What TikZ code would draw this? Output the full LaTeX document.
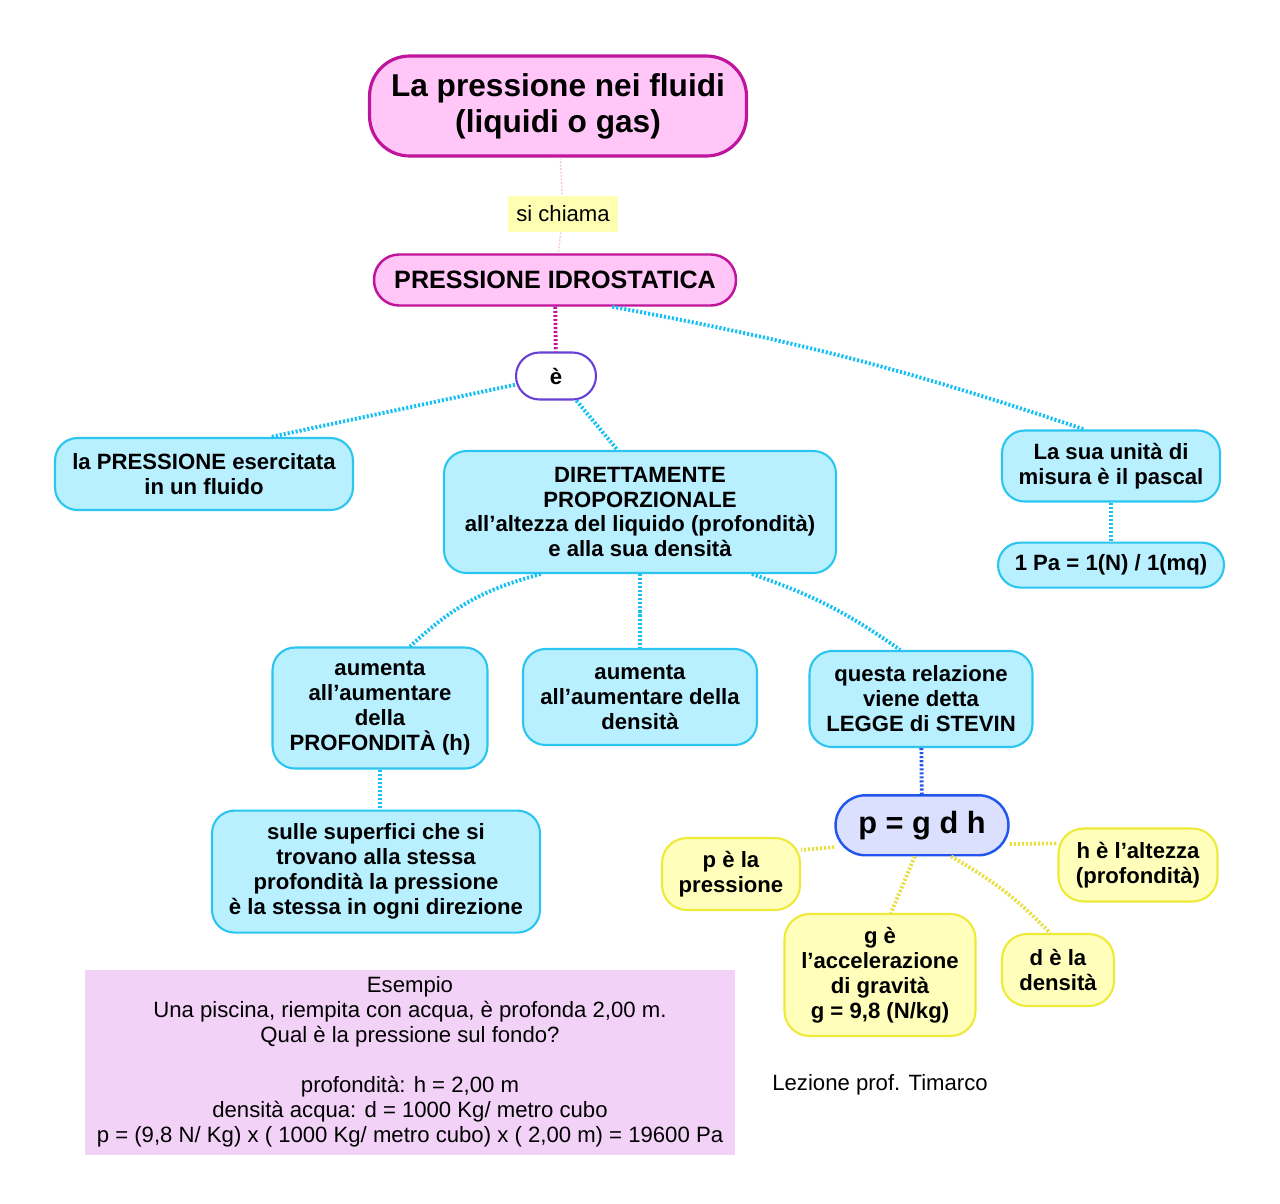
\documentclass[tikz,border=0pt]{standalone}
\usepackage{fontspec}
\setmainfont{Liberation Sans}
\usetikzlibrary{positioning}
\definecolor{colPinkFill}{HTML}{FFC6F7}
\definecolor{colPinkDraw}{HTML}{C0149C}
\definecolor{colPinkLine}{HTML}{F2C4EA}
\definecolor{colCyanFill}{HTML}{B9F0FF}
\definecolor{colCyanDraw}{HTML}{2BC5F0}
\definecolor{colCyanLine}{HTML}{14C0F5}
\definecolor{colYelFill}{HTML}{FFFFBB}
\definecolor{colYelDraw}{HTML}{EEEA3A}
\definecolor{colYelLine}{HTML}{E8E040}
\definecolor{colNote}{HTML}{FFFFB3}
\definecolor{colEh}{HTML}{6A3FD6}
\definecolor{colFormFill}{HTML}{DCE0FF}
\definecolor{colFormDraw}{HTML}{2255EE}
\definecolor{colExample}{HTML}{F3D2F8}

\begin{document}
\begin{tikzpicture}[
  x=0.02cm, y=0.02cm,
  font=\bfseries\fontsize{12.6}{14.2}\selectfont,
  every node/.style={align=center},
  pinkbox/.style={
    rounded corners=0.5cm, draw=colPinkDraw, fill=colPinkFill,
    line width=1.4pt, inner sep=0pt
  },
  cyanbox/.style={
    rounded corners=0.45cm, draw=colCyanDraw, fill=colCyanFill,
    line width=1.2pt, inner sep=0pt
  },
  yelbox/.style={
    rounded corners=0.5cm, draw=colYelDraw, fill=colYelFill,
    line width=1.2pt, inner sep=0pt
  },
  plain/.style={font=\mdseries\fontsize{12.6}{14.2}\selectfont},
  dotlink/.style={line width=2.2pt, dash pattern=on 1.2pt off 1.1pt, draw=#1},
  dotlink/.default=colCyanLine,
]

\useasboundingbox[fill=white] (0,0) rectangle (1280,-1203);

%% ============================================================
%% TOP - Title and name
%% ============================================================
\node[pinkbox, rounded corners=0.8cm, line width=1.8pt,
      minimum width=7.54cm, minimum height=2.0cm,
      font=\bfseries\fontsize{18}{20.4}\selectfont]
  (title) at (558,-106) {La pressione nei fluidi\\(liquidi o gas)};

\node[plain, fill=colNote, minimum width=2.22cm, minimum height=0.72cm, inner sep=0pt]
  (sichiama) at (563,-214) {si chiama};

\node[pinkbox, minimum width=7.24cm, minimum height=1.02cm,
      font=\bfseries\fontsize{14.3}{16}\selectfont]
  (pressione) at (555,-280) {PRESSIONE IDROSTATICA};

\node[draw=colEh, fill=white, line width=1.2pt, rounded corners=0.47cm,
      minimum width=1.6cm, minimum height=0.94cm, inner sep=0pt]
  (eh) at (556,-376) {è};

%% ============================================================
%% ROW 1 - What the pressure is
%% ============================================================
\node[cyanbox, minimum width=5.96cm, minimum height=1.44cm]
  (pfluido) at (204,-474) {la PRESSIONE esercitata\\in un fluido};

\node[cyanbox, minimum width=7.84cm, minimum height=2.44cm]
  (diret) at (640,-512)
  {DIRETTAMENTE\\PROPORZIONALE\\all’altezza del liquido (profondità)\\e alla sua densità};

\node[cyanbox, minimum width=4.36cm, minimum height=1.42cm]
  (unita) at (1111,-466) {La sua unità di\\misura è il pascal};

\node[cyanbox, minimum width=4.52cm, minimum height=0.9cm,
      below=0.78cm of unita]
  (pascal) {1 Pa = 1(N) / 1(mq)};

%% ============================================================
%% ROW 2 - Depth, density, Stevin
%% ============================================================
\node[cyanbox, minimum width=4.3cm, minimum height=2.42cm]
  (aumprof) at (380,-708) {aumenta\\all’aumentare\\della\\PROFONDITÀ (h)};

\node[cyanbox, minimum width=4.68cm, minimum height=1.92cm]
  (aumdens) at (640,-697) {aumenta\\all’aumentare della\\densità};

\node[cyanbox, minimum width=4.46cm, minimum height=1.92cm]
  (stevin) at (921,-699) {questa relazione\\viene detta\\LEGGE di STEVIN};

\node[cyanbox, minimum width=6.56cm, minimum height=2.44cm,
      below=0.8cm of aumprof, xshift=-0.08cm]
  (superfici)
  {sulle superfici che si\\trovano alla stessa\\profondità la pressione\\è la stessa in ogni direzione};

%% ============================================================
%% ROW 3 - Formula and its terms
%% ============================================================
\node[draw=colFormDraw, fill=colFormFill, line width=1.4pt, rounded corners=0.6cm,
      minimum width=3.46cm, minimum height=1.2cm, inner sep=0pt,
      font=\bfseries\fontsize{17.5}{20}\selectfont,
      below=0.92cm of stevin, xshift=0.02cm]
  (formula) {p = g d h};

\node[yelbox, minimum width=2.76cm, minimum height=1.44cm]
  (ppress) at (731,-874) {p è la\\pressione};
\node[yelbox, minimum width=3.82cm, minimum height=2.44cm]
  (gacc) at (880,-975) {g è\\l’accelerazione\\di gravità\\g = 9,8 (N/kg)};
\node[yelbox, minimum width=2.24cm, minimum height=1.44cm]
  (dens) at (1058,-970) {d è la\\densità};
\node[yelbox, minimum width=3.18cm, minimum height=1.46cm]
  (alt) at (1138,-865) {h è l’altezza\\(profondità)};

%% ============================================================
%% BOTTOM - Worked example and credit
%% ============================================================
\node[plain, fill=colExample, minimum width=13cm, minimum height=3.7cm, inner sep=0pt]
  (esempio) at (410,-1062)
  {Esempio\\Una piscina, riempita con acqua, è profonda 2,00 m.\\Qual è la pressione sul fondo?\\[14.2pt]
   profondità: h = 2,00 m\\densità acqua: d = 1000 Kg/ metro cubo\\
   p = (9,8 N/ Kg) x ( 1000 Kg/ metro cubo) x ( 2,00 m) = 19600 Pa};

\node[plain] (credit) at (880,-1085) {Lezione prof. Timarco};

%% ============================================================
%% CONNECTORS
%% ============================================================
\draw[line width=0.8pt, dash pattern=on 1pt off 1pt, colPinkLine] (title) -- (sichiama);
\draw[line width=0.8pt, dash pattern=on 1pt off 1pt, colPinkLine] (sichiama) -- (pressione);
\draw[dotlink=colPinkDraw] (pressione) -- (eh);

\draw[dotlink] (eh) -- (pfluido.29);
\draw[dotlink] (eh) -- (diret.110);
\draw[dotlink] (pressione.-25) to[bend left=4] (unita.126);
\draw[dotlink] (unita) -- (pascal);

\draw[dotlink] (diret.212) to[bend right=14] (aumprof.64);
\draw[dotlink] (diret) -- (aumdens);
\draw[dotlink] (diret.-29) to[bend left=8] (stevin.113);
\draw[dotlink] (aumprof.south) -- (aumprof.south |- superfici.north);

\draw[dotlink=colFormDraw] (stevin) -- (formula);

\draw[dotlink=colYelLine] (formula.194) -- (ppress.19);
\draw[dotlink=colYelLine] (formula.257) -- (gacc.80);
\draw[dotlink=colYelLine] (formula.-47) to[bend left=8] (dens.102);
\draw[dotlink=colYelLine] (formula.-12) -- (alt.165);

\end{tikzpicture}
\end{document}
